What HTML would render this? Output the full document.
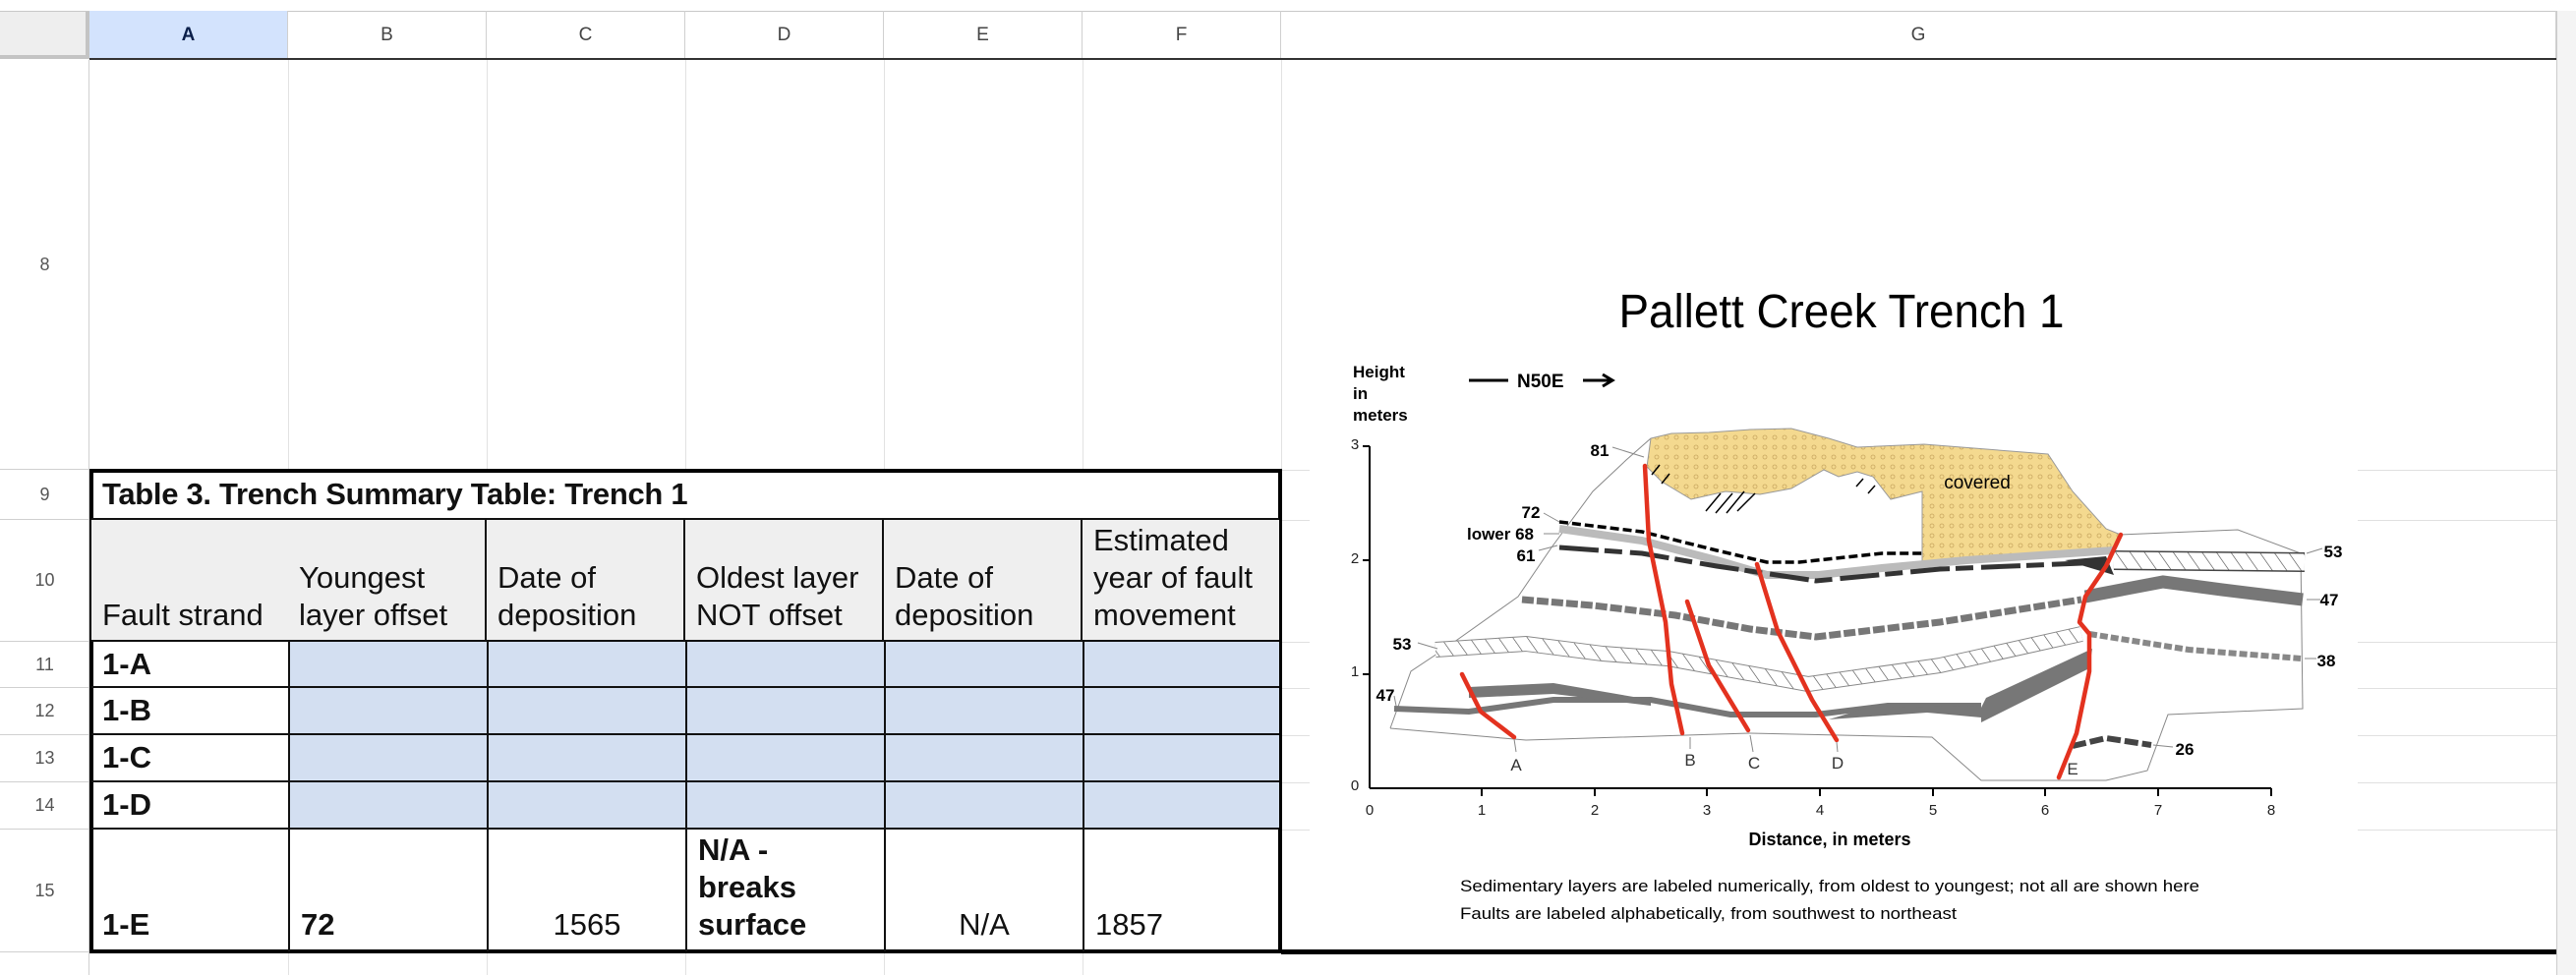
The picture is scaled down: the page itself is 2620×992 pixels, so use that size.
<!DOCTYPE html>
<html><head><meta charset="utf-8">
<style>
html,body{margin:0;padding:0;background:#fff;}
body{width:2620px;height:992px;position:relative;overflow:hidden;font-family:"Liberation Sans",Arial,sans-serif;}
.a{position:absolute;box-sizing:border-box;}
.ch{font-size:19px;color:#444;display:flex;align-items:center;justify-content:center;top:11px;height:49px;border-right:1px solid #d0d0d0;}
.rh{font-size:18px;color:#555;display:flex;align-items:center;justify-content:center;left:0;width:91px;border-bottom:1px solid #d0d0d0;}
.c{font-size:31px;line-height:38px;color:#111;display:flex;align-items:flex-end;padding:0 0 6px 11px;border-right:2px solid #111;border-bottom:2px solid #111;}
.m{align-items:center;padding-bottom:0;}
.b{font-weight:bold;}
.blue{background:#d3dff1;}
.g{background:#efefef;}
</style></head><body>
<div class="a" style="left:0;top:11px;width:2620px;height:1px;background:#c8c8c8"></div>
<div class="a" style="left:0;top:12px;width:91px;height:48px;background:#eeeeee;border-right:4px solid #c4c4c4;border-bottom:4px solid #c4c4c4"></div>
<div class="a ch" style="left:91px;width:202px;background:#d3e3fd;font-weight:bold;color:#0b1f4a">A</div>
<div class="a ch" style="left:293px;width:202px">B</div>
<div class="a ch" style="left:495px;width:202px">C</div>
<div class="a ch" style="left:697px;width:202px">D</div>
<div class="a ch" style="left:899px;width:202px">E</div>
<div class="a ch" style="left:1101px;width:202px">F</div>
<div class="a ch" style="left:1303px;width:1297px">G</div>
<div class="a" style="left:91px;top:59px;width:2509px;height:2px;background:#333"></div>
<div class="a" style="left:2600px;top:11px;width:20px;height:981px;background:#f4f4f4;border-left:1px solid #ccc"></div>
<div class="a" style="left:90px;top:61px;width:1px;height:931px;background:#d0d0d0"></div>
<div class="a rh" style="top:61px;height:417px">8</div>
<div class="a rh" style="top:478px;height:51px">9</div>
<div class="a rh" style="top:529px;height:124px">10</div>
<div class="a rh" style="top:653px;height:47px">11</div>
<div class="a rh" style="top:700px;height:48px">12</div>
<div class="a rh" style="top:748px;height:48px">13</div>
<div class="a rh" style="top:796px;height:48px">14</div>
<div class="a rh" style="top:844px;height:125px">15</div>
<div class="a" style="left:293px;top:61px;width:1px;height:417px;background:#e2e2e2"></div>
<div class="a" style="left:495px;top:61px;width:1px;height:417px;background:#e2e2e2"></div>
<div class="a" style="left:697px;top:61px;width:1px;height:417px;background:#e2e2e2"></div>
<div class="a" style="left:899px;top:61px;width:1px;height:417px;background:#e2e2e2"></div>
<div class="a" style="left:1101px;top:61px;width:1px;height:417px;background:#e2e2e2"></div>
<div class="a" style="left:1303px;top:61px;width:1px;height:417px;background:#e2e2e2"></div>
<div class="a" style="left:293px;top:970px;width:1px;height:22px;background:#e2e2e2"></div>
<div class="a" style="left:495px;top:970px;width:1px;height:22px;background:#e2e2e2"></div>
<div class="a" style="left:697px;top:970px;width:1px;height:22px;background:#e2e2e2"></div>
<div class="a" style="left:899px;top:970px;width:1px;height:22px;background:#e2e2e2"></div>
<div class="a" style="left:1101px;top:970px;width:1px;height:22px;background:#e2e2e2"></div>
<div class="a" style="left:1303px;top:529px;width:1297px;height:1px;background:#e0e0e0"></div>
<div class="a" style="left:1303px;top:653px;width:1297px;height:1px;background:#e0e0e0"></div>
<div class="a" style="left:1303px;top:700px;width:1297px;height:1px;background:#e0e0e0"></div>
<div class="a" style="left:1303px;top:748px;width:1297px;height:1px;background:#e0e0e0"></div>
<div class="a" style="left:1303px;top:796px;width:1297px;height:1px;background:#e0e0e0"></div>
<div class="a" style="left:1303px;top:844px;width:1297px;height:1px;background:#e0e0e0"></div>
<div class="a" style="left:1303px;top:478px;width:1297px;height:1px;background:#e0e0e0"></div>
<div class="a" style="left:91px;top:477px;width:1213px;height:493px;border:4px solid #000;background:#fff"></div>
<div class="a c b m" style="left:93px;top:479px;width:1208px;height:50px;font-size:31px;border-right:none;letter-spacing:-0.3px">Table 3. Trench Summary Table: Trench 1</div>
<div class="a c g" style="left:93px;top:529px;width:202px;height:124px">Fault strand</div>
<div class="a c g" style="left:293px;top:529px;width:202px;height:124px">Youngest<br>layer offset</div>
<div class="a c g" style="left:495px;top:529px;width:202px;height:124px">Date of<br>deposition</div>
<div class="a c g" style="left:697px;top:529px;width:202px;height:124px">Oldest layer<br>NOT offset</div>
<div class="a c g" style="left:899px;top:529px;width:202px;height:124px">Date of<br>deposition</div>
<div class="a c g" style="left:1101px;top:529px;width:200px;height:124px;border-right:none">Estimated<br>year of fault<br>movement</div>
<div class="a c b m" style="left:93px;top:653px;width:202px;height:47px">1-A</div>
<div class="a c b m" style="left:93px;top:700px;width:202px;height:48px">1-B</div>
<div class="a c b m" style="left:93px;top:748px;width:202px;height:48px">1-C</div>
<div class="a c b m" style="left:93px;top:796px;width:202px;height:48px">1-D</div>
<div class="a blue" style="left:295px;top:653px;width:1006px;height:191px"></div>
<div class="a" style="left:293px;top:653px;width:2px;height:315px;background:#111"></div>
<div class="a" style="left:495px;top:653px;width:2px;height:315px;background:#111"></div>
<div class="a" style="left:697px;top:653px;width:2px;height:315px;background:#111"></div>
<div class="a" style="left:899px;top:653px;width:2px;height:315px;background:#111"></div>
<div class="a" style="left:1101px;top:653px;width:2px;height:315px;background:#111"></div>
<div class="a" style="left:93px;top:698px;width:1208px;height:2px;background:#111"></div>
<div class="a" style="left:93px;top:746px;width:1208px;height:2px;background:#111"></div>
<div class="a" style="left:93px;top:794px;width:1208px;height:2px;background:#111"></div>
<div class="a" style="left:93px;top:842px;width:1208px;height:2px;background:#111"></div>
<div class="a c b" style="left:93px;top:844px;width:200px;height:122px;border:none">1-E</div>
<div class="a c b" style="left:295px;top:844px;width:200px;height:122px;border:none">72</div>
<div class="a c" style="left:497px;top:844px;width:200px;height:122px;border:none;justify-content:center;padding-left:0">1565</div>
<div class="a c b" style="left:699px;top:844px;width:200px;height:122px;border:none">N/A -<br>breaks<br>surface</div>
<div class="a c" style="left:901px;top:844px;width:200px;height:122px;border:none;justify-content:center;padding-left:0">N/A</div>
<div class="a c" style="left:1103px;top:844px;width:198px;height:122px;border:none">1857</div>
<div class="a" style="left:1303px;top:966px;width:1297px;height:5px;background:#000"></div>

<svg class="a" style="left:0;top:0" width="2620" height="992" viewBox="0 0 2620 992" font-family="Liberation Sans, Arial, sans-serif">
<defs>
<pattern id="dots" width="10" height="10" patternUnits="userSpaceOnUse">
<rect width="10" height="10" fill="#f4d98f"/><circle cx="5" cy="5" r="2" fill="none" stroke="#c9a760" stroke-width="0.8"/></pattern>
<pattern id="hatch" width="12" height="12" patternUnits="userSpaceOnUse" patternTransform="rotate(-35)">
<rect width="12" height="12" fill="#fff"/><line x1="0" y1="0" x2="0" y2="12" stroke="#444" stroke-width="1.2"/></pattern>
</defs>
<rect x="1332" y="62" width="1066" height="903" fill="#fff"/>
<text x="1873" y="333" font-size="48" text-anchor="middle" textLength="453" lengthAdjust="spacingAndGlyphs">Pallett Creek Trench 1</text>
<g font-weight="bold" font-size="17">
<text x="1376" y="384">Height</text><text x="1376" y="406">in</text><text x="1376" y="428">meters</text>
<text x="1543" y="394" font-size="19">N50E</text>
</g>
<line x1="1494" y1="387" x2="1534" y2="387" stroke="#000" stroke-width="3"/>
<line x1="1610" y1="387" x2="1638" y2="387" stroke="#000" stroke-width="3"/>
<path d="M1630 381 L1640 387 L1630 393" fill="none" stroke="#000" stroke-width="3"/>
<g stroke="#000" stroke-width="2" fill="none">
<line x1="1393" y1="454" x2="1393" y2="802"/>
<line x1="1393" y1="802" x2="2310" y2="802"/>
<line x1="1386" y1="454" x2="1393" y2="454"/><line x1="1386" y1="570" x2="1393" y2="570"/><line x1="1386" y1="686" x2="1393" y2="686"/>
<line x1="1507" y1="802" x2="1507" y2="810"/><line x1="1622" y1="802" x2="1622" y2="810"/><line x1="1736" y1="802" x2="1736" y2="810"/><line x1="1851" y1="802" x2="1851" y2="810"/><line x1="1966" y1="802" x2="1966" y2="810"/><line x1="2080" y1="802" x2="2080" y2="810"/><line x1="2195" y1="802" x2="2195" y2="810"/><line x1="2310" y1="802" x2="2310" y2="810"/>
</g>
<g font-size="15" text-anchor="middle" fill="#222">
<text x="1378" y="457">3</text><text x="1378" y="573">2</text><text x="1378" y="688">1</text><text x="1378" y="804">0</text>
<text x="1393" y="829">0</text><text x="1507" y="829">1</text><text x="1622" y="829">2</text><text x="1736" y="829">3</text><text x="1851" y="829">4</text><text x="1966" y="829">5</text><text x="2080" y="829">6</text><text x="2195" y="829">7</text><text x="2310" y="829">8</text>
</g>
<text x="1861" y="860" font-size="18" font-weight="bold" text-anchor="middle">Distance, in meters</text>
<text x="1485" y="907" font-size="17" textLength="752" lengthAdjust="spacingAndGlyphs">Sedimentary layers are labeled numerically, from oldest to youngest; not all are shown here</text>
<text x="1485" y="935" font-size="17" textLength="505" lengthAdjust="spacingAndGlyphs">Faults are labeled alphabetically, from southwest to northeast</text>
<path d="M1414 741 L1435 683 L1468 661 L1544 607 L1578 557 L1620 500 L1654 468 L1679 446 M2157 544 L2276 539 L2340 563 L2342 721 L2205 727 L2184 784 L2142 794 L2015 794 L1965 750 L1780 746 L1552 753 L1414 741" fill="none" stroke="#888" stroke-width="1"/>
<path d="M1679 446 L1700 441 L1738 440 L1780 437 L1822 436 L1860 446 L1889 455 L1957 452 L2083 462 L2108 500 L2142 538 L2157 544 L2150 560 L2100 565 L2040 570 L1955 573 L1955 500 L1935 505 L1923 508 L1905 485 L1889 480 L1870 485 L1855 478 L1822 497 L1790 503 L1755 500 L1720 508 L1690 490 L1675 475 Z" fill="url(#dots)" stroke="#999" stroke-width="1"/>
<g stroke="#000" stroke-width="1.5"><line x1="1735" y1="520" x2="1750" y2="502"/><line x1="1745" y1="522" x2="1762" y2="502"/><line x1="1756" y1="522" x2="1774" y2="500"/><line x1="1767" y1="520" x2="1785" y2="502"/><line x1="1680" y1="483" x2="1688" y2="473"/><line x1="1690" y1="492" x2="1698" y2="482"/><line x1="1888" y1="495" x2="1895" y2="487"/><line x1="1900" y1="502" x2="1907" y2="494"/></g>
<text x="2011" y="497" font-size="19" text-anchor="middle">covered</text>
<path d="M1586 538 L1670 550 L1746 570 L1797 585 L1850 585 L1914 578 L2000 570 L2150 560" fill="none" stroke="#bbb" stroke-width="8"/>
<path d="M1586 531 L1670 541 L1746 560 L1797 572 L1830 572 L1914 563 L1957 563" fill="none" stroke="#000" stroke-width="3.5" stroke-dasharray="9 4"/>
<path d="M1586 557 L1670 563 L1746 576 L1847 591 L1973 579 L2142 572" fill="none" stroke="#333" stroke-width="5" stroke-dasharray="40 6 18 8"/>
<path d="M2100 570 L2142 566 L2150 585 Z" fill="#333"/>
<path d="M2150 570 L2344 572" fill="none" stroke="#444" stroke-width="20"/>
<path d="M2150 570 L2344 572" fill="none" stroke="url(#hatch)" stroke-width="17"/>
<path d="M2121 607 L2200 592 L2260 600 L2342 610" fill="none" stroke="#777" stroke-width="13"/>
<path d="M1548 610 L1620 616 L1704 626 L1780 640 L1847 648 L1973 633 L2117 610" fill="none" stroke="#777" stroke-width="7" stroke-dasharray="12 3"/>
<path d="M2125 645 L2226 661 L2340 670" fill="none" stroke="#888" stroke-width="6" stroke-dasharray="8 3"/>
<path d="M1460 661 L1552 655 L1630 665 L1696 670 L1839 696 L1973 677 L2117 645" fill="none" stroke="#888" stroke-width="16"/>
<path d="M1460 661 L1552 655 L1630 665 L1696 670 L1839 696 L1973 677 L2117 645" fill="none" stroke="url(#hatch)" stroke-width="14"/>
<path d="M1418 721 L1494 724 L1580 712 L1679 712 L1760 727 L1847 727 L1920 718 L2015 718" fill="none" stroke="#777" stroke-width="6"/>
<path d="M1494 699 L1580 695 L1679 712 L1679 718 L1580 706 L1494 710 Z" fill="#777"/>
<path d="M2015 735 L2125 680 L2128 660 L2020 710 L2015 720 Z" fill="#777"/>
<path d="M1860 732 L1960 725 L2015 730 L2015 718 L1900 720 Z" fill="#777"/>
<path d="M2108 759 L2142 751 L2188 758" fill="none" stroke="#444" stroke-width="6" stroke-dasharray="14 4"/>
<g fill="none" stroke="#e3321f" stroke-width="4.5" stroke-linecap="round" stroke-linejoin="round">
<path d="M1487 686 L1506 724 L1540 750"/>
<path d="M1673 474 L1677 550 L1694 633 L1700 696 L1711 746"/>
<path d="M1716 612 L1738 677 L1778 743"/>
<path d="M1787 574 L1808 642 L1843 712 L1868 753"/>
<path d="M2157 544 L2142 576 L2121 607 L2115 633 L2125 645 L2125 683 L2112 746 L2094 791"/>
</g>
<g stroke="#888" stroke-width="1"><line x1="1640" y1="455" x2="1672" y2="465"/><line x1="1570" y1="522" x2="1586" y2="531"/><line x1="1570" y1="543" x2="1586" y2="543"/><line x1="1565" y1="560" x2="1584" y2="555"/><line x1="1442" y1="654" x2="1462" y2="660"/><line x1="1418" y1="708" x2="1420" y2="718"/><line x1="2346" y1="563" x2="2362" y2="558"/><line x1="2346" y1="610" x2="2360" y2="610"/><line x1="2344" y1="670" x2="2356" y2="670"/><line x1="2190" y1="758" x2="2210" y2="760"/><line x1="1540" y1="752" x2="1542" y2="765"/><line x1="1719" y1="750" x2="1719" y2="762"/><line x1="1780" y1="748" x2="1783" y2="765"/><line x1="1868" y1="755" x2="1869" y2="765"/></g>
<g font-size="17" font-weight="bold" text-anchor="middle">
<text x="1627" y="464">81</text><text x="1557" y="527">72</text><text x="1526" y="549">lower 68</text><text x="1552" y="571">61</text><text x="1426" y="661">53</text><text x="1409" y="713">47</text>
<text x="2373" y="567">53</text><text x="2369" y="616">47</text><text x="2366" y="678">38</text><text x="2222" y="768">26</text>
</g>
<g font-size="17" text-anchor="middle" fill="#333">
<text x="1542" y="784">A</text><text x="1719" y="779">B</text><text x="1784" y="782">C</text><text x="1869" y="782">D</text><text x="2108" y="788">E</text>
</g>
</svg>
</body></html>
